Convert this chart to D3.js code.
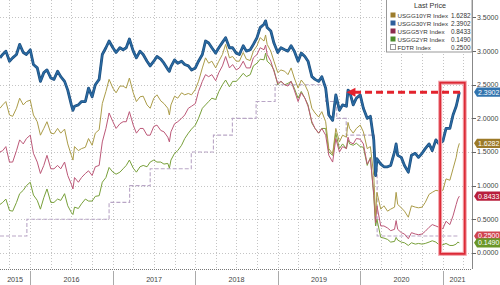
<!DOCTYPE html>
<html>
<head>
<meta charset="utf-8">
<script src="https://cdn.jsdelivr.net/npm/d3@7"></script>
<style>
body { margin: 0; background: #fff; }
svg text { font-family: "Liberation Sans", Arial, sans-serif; }
</style>
</head>
<body>
<svg id="chart" width="500" height="285"></svg>
<script>
var dates = [
    "2015-08-20","2015-09-01","2015-09-15","2015-10-01","2015-10-15","2015-11-01","2015-11-15","2015-12-01","2015-12-15",
    "2016-01-01","2016-01-15","2016-02-01","2016-02-15","2016-03-01","2016-03-15","2016-04-01","2016-04-15","2016-05-01","2016-05-15","2016-06-01","2016-06-15","2016-07-01","2016-07-08","2016-07-15","2016-08-01","2016-08-15","2016-09-01","2016-09-15","2016-10-01","2016-10-15","2016-11-01","2016-11-15","2016-12-01","2016-12-15",
    "2017-01-01","2017-01-15","2017-02-01","2017-02-15","2017-03-01","2017-03-15","2017-04-01","2017-04-15","2017-05-01","2017-05-15","2017-06-01","2017-06-15","2017-07-01","2017-07-15","2017-08-01","2017-08-15","2017-09-01","2017-09-08","2017-09-15","2017-10-01","2017-10-15","2017-11-01","2017-11-15","2017-12-01","2017-12-15",
    "2018-01-01","2018-01-15","2018-02-01","2018-02-15","2018-03-01","2018-03-15","2018-04-01","2018-04-15","2018-05-01","2018-05-15","2018-06-01","2018-06-15","2018-07-01","2018-07-15","2018-08-01","2018-08-15","2018-09-01","2018-09-15","2018-10-01","2018-10-15","2018-11-01","2018-11-08","2018-11-15","2018-12-01","2018-12-15",
    "2019-01-01","2019-01-15","2019-02-01","2019-02-15","2019-03-01","2019-03-15","2019-04-01","2019-04-15","2019-05-01","2019-05-15","2019-06-01","2019-06-15","2019-07-01","2019-07-15","2019-08-01","2019-08-15","2019-09-01","2019-09-15","2019-10-01","2019-10-15","2019-11-01","2019-11-08","2019-11-15","2019-12-01","2019-12-15",
    "2020-01-01","2020-01-15","2020-02-01","2020-02-15","2020-03-01","2020-03-09","2020-03-15","2020-04-01","2020-04-15","2020-05-01","2020-05-15","2020-06-01","2020-06-08","2020-06-15","2020-07-01","2020-07-15","2020-08-01","2020-08-15","2020-09-01","2020-09-15","2020-10-01","2020-10-15","2020-11-01","2020-11-15","2020-12-01","2020-12-15",
    "2021-01-01","2021-01-15","2021-02-01","2021-02-15","2021-03-01","2021-03-08","2021-03-15"
];

var usgg30 = [
    2.90, 2.95, 3.00, 2.85, 2.90, 2.95, 3.10, 2.98, 2.95,
    3.02, 2.80, 2.75, 2.55, 2.68, 2.72, 2.60, 2.58, 2.70, 2.62, 2.55, 2.42, 2.20, 2.12, 2.18, 2.20, 2.25, 2.25, 2.45, 2.32, 2.50, 2.58, 2.95, 3.05, 3.15,
    3.05, 2.98, 3.05, 3.02, 3.05, 3.18, 3.00, 2.90, 3.00, 2.95, 2.85, 2.78, 2.85, 2.92, 2.88, 2.82, 2.73, 2.70, 2.77, 2.87, 2.82, 2.85, 2.80, 2.78, 2.72,
    2.75, 2.85, 2.95, 3.15, 3.12, 3.05, 2.97, 3.05, 3.13, 3.20, 3.05, 3.05, 2.97, 2.95, 3.08, 3.00, 3.02, 3.10, 3.20, 3.35, 3.40, 3.45, 3.35, 3.30, 3.12,
    2.98, 3.05, 3.02, 3.00, 3.08, 3.00, 2.85, 2.97, 2.92, 2.85, 2.62, 2.58, 2.55, 2.62, 2.45, 2.05, 1.97, 2.35, 2.12, 2.20, 2.18, 2.42, 2.40, 2.20, 2.30,
    2.35, 2.15, 2.00, 2.03, 1.68, 1.15, 1.40, 1.32, 1.28, 1.28, 1.30, 1.50, 1.62, 1.45, 1.42, 1.30, 1.20, 1.45, 1.48, 1.42, 1.48, 1.55, 1.62, 1.52, 1.68, 1.62,
    1.66, 1.85, 1.85, 2.05, 2.18, 2.28, 2.3902
];

var usgg10 = [
    2.15, 2.20, 2.25, 2.05, 2.03, 2.15, 2.30, 2.20, 2.25,
    2.27, 2.05, 1.95, 1.75, 1.85, 1.95, 1.78, 1.77, 1.85, 1.78, 1.84, 1.62, 1.45, 1.38, 1.58, 1.52, 1.55, 1.57, 1.70, 1.60, 1.78, 1.83, 2.22, 2.40, 2.58,
    2.45, 2.38, 2.48, 2.48, 2.45, 2.60, 2.38, 2.25, 2.32, 2.33, 2.20, 2.15, 2.30, 2.35, 2.26, 2.22, 2.15, 2.05, 2.20, 2.33, 2.30, 2.38, 2.35, 2.37, 2.35,
    2.43, 2.55, 2.75, 2.90, 2.82, 2.85, 2.75, 2.85, 2.95, 3.10, 2.90, 2.92, 2.85, 2.85, 2.98, 2.88, 2.86, 3.00, 3.08, 3.20, 3.15, 3.24, 3.10, 3.00, 2.85,
    2.68, 2.72, 2.70, 2.65, 2.75, 2.60, 2.45, 2.57, 2.50, 2.40, 2.15, 2.08, 2.02, 2.10, 1.95, 1.55, 1.47, 1.85, 1.65, 1.75, 1.72, 1.94, 1.85, 1.78, 1.85,
    1.90, 1.80, 1.55, 1.58, 1.15, 0.55, 0.90, 0.65, 0.70, 0.62, 0.65, 0.68, 0.90, 0.72, 0.67, 0.62, 0.53, 0.70, 0.68, 0.67, 0.68, 0.75, 0.87, 0.90, 0.93, 0.92,
    0.93, 1.10, 1.08, 1.25, 1.42, 1.55, 1.6282
];

var usgg5 = [
    1.50, 1.52, 1.58, 1.35, 1.35, 1.52, 1.68, 1.62, 1.70,
    1.75, 1.48, 1.35, 1.18, 1.30, 1.45, 1.25, 1.25, 1.30, 1.25, 1.35, 1.15, 1.02, 0.95, 1.12, 1.05, 1.12, 1.18, 1.22, 1.15, 1.28, 1.30, 1.65, 1.85, 2.08,
    1.95, 1.85, 1.92, 1.95, 1.95, 2.10, 1.90, 1.78, 1.85, 1.85, 1.75, 1.75, 1.88, 1.90, 1.82, 1.80, 1.72, 1.65, 1.80, 1.92, 1.95, 2.00, 2.05, 2.15, 2.18,
    2.22, 2.40, 2.55, 2.65, 2.62, 2.65, 2.56, 2.68, 2.78, 2.92, 2.75, 2.80, 2.72, 2.75, 2.85, 2.75, 2.75, 2.90, 2.95, 3.05, 3.02, 3.09, 2.95, 2.85, 2.70,
    2.52, 2.55, 2.50, 2.48, 2.55, 2.42, 2.25, 2.38, 2.30, 2.18, 1.95, 1.85, 1.78, 1.85, 1.75, 1.45, 1.35, 1.70, 1.50, 1.58, 1.55, 1.72, 1.65, 1.62, 1.70,
    1.69, 1.62, 1.32, 1.40, 0.88, 0.45, 0.70, 0.40, 0.40, 0.37, 0.33, 0.35, 0.48, 0.35, 0.30, 0.28, 0.21, 0.30, 0.28, 0.27, 0.28, 0.32, 0.38, 0.42, 0.40, 0.38,
    0.36, 0.47, 0.42, 0.55, 0.72, 0.80, 0.8433
];

var usgg2 = [
    0.72, 0.75, 0.80, 0.63, 0.62, 0.75, 0.88, 0.93, 1.00,
    1.05, 0.86, 0.78, 0.65, 0.82, 0.95, 0.75, 0.75, 0.80, 0.78, 0.88, 0.70, 0.60, 0.57, 0.68, 0.66, 0.73, 0.80, 0.77, 0.77, 0.84, 0.85, 1.05, 1.12, 1.27,
    1.20, 1.17, 1.20, 1.25, 1.30, 1.38, 1.26, 1.20, 1.28, 1.30, 1.28, 1.35, 1.38, 1.35, 1.35, 1.32, 1.33, 1.26, 1.38, 1.48, 1.52, 1.60, 1.70, 1.78, 1.84,
    1.90, 2.00, 2.15, 2.20, 2.25, 2.30, 2.28, 2.40, 2.50, 2.57, 2.47, 2.55, 2.55, 2.60, 2.67, 2.62, 2.65, 2.78, 2.82, 2.88, 2.87, 2.97, 2.85, 2.80, 2.72,
    2.50, 2.55, 2.50, 2.52, 2.55, 2.45, 2.30, 2.40, 2.30, 2.20, 1.93, 1.85, 1.78, 1.85, 1.85, 1.50, 1.45, 1.78, 1.55, 1.62, 1.55, 1.68, 1.62, 1.60, 1.63,
    1.58, 1.57, 1.30, 1.42, 0.85, 0.40, 0.50, 0.23, 0.22, 0.20, 0.16, 0.17, 0.23, 0.19, 0.16, 0.15, 0.11, 0.15, 0.13, 0.14, 0.13, 0.14, 0.16, 0.18, 0.16, 0.12,
    0.12, 0.14, 0.11, 0.11, 0.13, 0.16, 0.1490
];

// fed funds target (upper bound), changes only
var fedDates = ["2015-08-20","2015-12-17","2016-12-15","2017-03-16","2017-06-15","2017-12-14","2018-03-22","2018-06-14","2018-09-27","2018-12-20","2019-08-01","2019-09-19","2019-10-31","2020-03-04","2020-03-16","2021-03-15"];
var fedRate = [0.25, 0.50, 0.75, 1.00, 1.25, 1.50, 1.75, 2.00, 2.25, 2.50, 2.25, 2.00, 1.75, 1.25, 0.25, 0.25];

var seriesNames = ["USGG10YR Index", "USGG30YR Index", "USGG5YR Index", "USGG2YR Index", "FDTR Index"];
var lastValues = [1.6282, 2.3902, 0.8433, 0.1490, 0.2500];
var yTicks = [0, 0.5, 1.0, 1.5, 2.0, 2.5, 3.0, 3.5];
var yearLabels = ["2015", "2016", "2017", "2018", "2019", "2020", "2021"];

// highlight box and arrow (in data terms)
var boxDates = ["2020-12-20", "2021-04-08"];
var boxLevels = [-0.015, 2.53];
var arrowDates = ["2021-03-18", "2019-11-01"];
var arrowLevel = 2.39;

var parse = d3.timeParse("%Y-%m-%d");
var width = 500, height = 285;
var plotRight = 472, plotBottom = 269;

var svg = d3.select("#chart");

var x = d3.scaleTime()
    .domain([parse("2015-08-20"), parse("2021-05-10")])
    .range([0, plotRight]);

var y = d3.scaleLinear()
    .domain([-0.24, 3.76])
    .range([plotBottom, 0]);

var colors = {
    y10: "#ab9c48",
    y30: "#2a6aa2",
    y5: "#bc5878",
    y2: "#78a03a",
    fed: "#b9a6c6"
};
var swatchColors = ["#9c7c2c", "#2c5e9c", "#8c2a4c", "#4c8c2c", "#ffffff"];
var tagColors = ["#9c7a28", "#3274ae", "#b81f3c", "#6a9628", "#d04450"];

// grid
var grid = svg.append("g").attr("class", "grid");
var quarters = d3.timeMonth.every(3).range(x.domain()[0], x.domain()[1]);
grid.selectAll(".vgrid")
    .data(quarters)
    .join("line")
    .attr("x1", d => Math.round(x(d)) + 0.5)
    .attr("x2", d => Math.round(x(d)) + 0.5)
    .attr("y1", 0)
    .attr("y2", plotBottom)
    .attr("stroke", "#c4c4c4")
    .attr("stroke-dasharray", "1,2");

grid.selectAll(".hgrid")
    .data(yTicks)
    .join("line")
    .attr("x1", 0)
    .attr("x2", plotRight)
    .attr("y1", d => Math.round(y(d)) + 0.5)
    .attr("y2", d => Math.round(y(d)) + 0.5)
    .attr("stroke", "#c4c4c4")
    .attr("stroke-dasharray", "1,2");

// series
var dateObjs = dates.map(parse);
function toPoints(values) {
    return values.map((v, i) => [dateObjs[i], v]);
}

var line = d3.line()
    .x(d => x(d[0]))
    .y(d => y(d[1]));

var fedLine = d3.line()
    .curve(d3.curveStepAfter)
    .x(d => x(d[0]))
    .y(d => y(d[1]));

svg.append("path")
    .datum(fedDates.map((d, i) => [parse(d), fedRate[i]]))
    .attr("d", fedLine)
    .attr("fill", "none")
    .attr("stroke", colors.fed)
    .attr("stroke-width", 1.1)
    .attr("stroke-dasharray", "4,2");

[[usgg2, colors.y2], [usgg5, colors.y5], [usgg10, colors.y10]].forEach(function(s) {
    svg.append("path")
        .datum(toPoints(s[0]))
        .attr("d", line)
        .attr("fill", "none")
        .attr("stroke", s[1])
        .attr("stroke-width", 1)
        .attr("stroke-linejoin", "round");
});

svg.append("path")
    .datum(toPoints(usgg30))
    .attr("d", line)
    .attr("fill", "none")
    .attr("stroke", "#1b4c7c")
    .attr("stroke-width", 2.8)
    .attr("stroke-linejoin", "round");

svg.append("path")
    .datum(toPoints(usgg30))
    .attr("d", line)
    .attr("fill", "none")
    .attr("stroke", colors.y30)
    .attr("stroke-width", 1.5)
    .attr("stroke-linejoin", "round");

// red highlight box
var bx0 = x(parse(boxDates[0])), bx1 = x(parse(boxDates[1]));
svg.append("rect")
    .attr("x", bx0)
    .attr("y", y(boxLevels[1]))
    .attr("width", bx1 - bx0)
    .attr("height", y(boxLevels[0]) - y(boxLevels[1]))
    .attr("fill", "none")
    .attr("stroke", "#f2a0a8")
    .attr("stroke-width", 4);
svg.append("rect")
    .attr("x", bx0)
    .attr("y", y(boxLevels[1]))
    .attr("width", bx1 - bx0)
    .attr("height", y(boxLevels[0]) - y(boxLevels[1]))
    .attr("fill", "none")
    .attr("stroke", "#dc2a36")
    .attr("stroke-width", 1.8);

// red dashed arrow
var ax0 = x(parse(arrowDates[0])), ax1 = x(parse(arrowDates[1])), ay = y(arrowLevel);
svg.append("line")
    .attr("x1", ax0)
    .attr("x2", ax1 + 7)
    .attr("y1", ay)
    .attr("y2", ay)
    .attr("stroke", "#e3232d")
    .attr("stroke-width", 3)
    .attr("stroke-dasharray", "7,4");
svg.append("path")
    .attr("d", "M" + ax1 + "," + ay + "L" + (ax1 + 9) + "," + (ay - 4.5) + "L" + (ax1 + 9) + "," + (ay + 4.5) + "Z")
    .attr("fill", "#e3232d");

// bottom axis
svg.append("line")
    .attr("x1", 0)
    .attr("x2", plotRight)
    .attr("y1", plotBottom + 0.5)
    .attr("y2", plotBottom + 0.5)
    .attr("stroke", "#777")
    .attr("stroke-dasharray", "1,1");

var years = d3.timeYear.range(x.domain()[0], x.domain()[1]);
svg.selectAll(".year-sep")
    .data(years)
    .join("line")
    .attr("x1", d => Math.round(x(d)) + 0.5)
    .attr("x2", d => Math.round(x(d)) + 0.5)
    .attr("y1", plotBottom + 2)
    .attr("y2", height)
    .attr("stroke", "#aaa");

svg.selectAll(".year-label")
    .data(yearLabels)
    .join("text")
    .attr("x", d => {
        var a = Math.max(x(parse(d + "-01-01")), 0);
        var b = Math.min(x(parse((+d + 1) + "-01-01")), plotRight);
        return (a + b) / 2;
    })
    .attr("y", 282)
    .attr("text-anchor", "middle")
    .attr("font-size", 7.2)
    .attr("fill", "#444")
    .text(d => d);

// right axis
svg.append("line")
    .attr("x1", plotRight + 0.5)
    .attr("x2", plotRight + 0.5)
    .attr("y1", 0)
    .attr("y2", plotBottom)
    .attr("stroke", "#888");

svg.selectAll(".ytick")
    .data(yTicks)
    .join("line")
    .attr("x1", plotRight)
    .attr("x2", plotRight + 4)
    .attr("y1", d => Math.round(y(d)) + 0.5)
    .attr("y2", d => Math.round(y(d)) + 0.5)
    .attr("stroke", "#666");

svg.selectAll(".ytick-label")
    .data(yTicks)
    .join("text")
    .attr("x", plotRight + 5)
    .attr("y", d => y(d))
    .attr("dy", "0.35em")
    .attr("font-size", 7)
    .attr("fill", "#444")
    .text(d => d.toFixed(4));

// last value tags, 2Y drawn after FDTR so it sits on top
var tagOrder = [1, 0, 2, 4, 3];
tagOrder.forEach(function(i) {
    var ty = y(lastValues[i]);
    var g = svg.append("g");
    g.append("path")
        .attr("d", "M" + (plotRight + 2) + "," + ty +
            "L" + (plotRight + 5) + "," + (ty - 4.6) +
            "L" + width + "," + (ty - 4.6) +
            "L" + width + "," + (ty + 4.6) +
            "L" + (plotRight + 5) + "," + (ty + 4.6) + "Z")
        .attr("fill", tagColors[i]);
    g.append("text")
        .attr("x", plotRight + 6)
        .attr("y", ty)
        .attr("dy", "0.35em")
        .attr("font-size", 7)
        .attr("fill", "#fff")
        .text(lastValues[i].toFixed(4));
});

// legend
var legend = svg.append("g").attr("transform", "translate(386,0)");
legend.append("rect")
    .attr("x", 0.5)
    .attr("y", -1)
    .attr("width", 85.5)
    .attr("height", 53)
    .attr("fill", "#fff")
    .attr("stroke", "#999");
legend.append("text")
    .attr("x", 44)
    .attr("y", 8)
    .attr("text-anchor", "middle")
    .attr("font-size", 7.2)
    .attr("fill", "#333")
    .text("Last Price");

var rows = legend.selectAll(".row")
    .data(seriesNames)
    .join("g")
    .attr("transform", (d, i) => "translate(0," + (15.5 + i * 8) + ")");
rows.append("rect")
    .attr("x", 4.5)
    .attr("y", -3)
    .attr("width", 5)
    .attr("height", 5)
    .attr("fill", (d, i) => swatchColors[i])
    .attr("stroke", (d, i) => i === 4 ? "#999" : "none");
rows.append("text")
    .attr("x", 11.5)
    .attr("y", 0)
    .attr("dy", "0.35em")
    .attr("font-size", 6.2)
    .attr("fill", "#333")
    .text(d => d);
rows.append("text")
    .attr("x", 84.5)
    .attr("y", 0)
    .attr("dy", "0.35em")
    .attr("text-anchor", "end")
    .attr("font-size", 6.4)
    .attr("fill", "#333")
    .text((d, i) => lastValues[i].toFixed(4));
</script>
</body>
</html>
